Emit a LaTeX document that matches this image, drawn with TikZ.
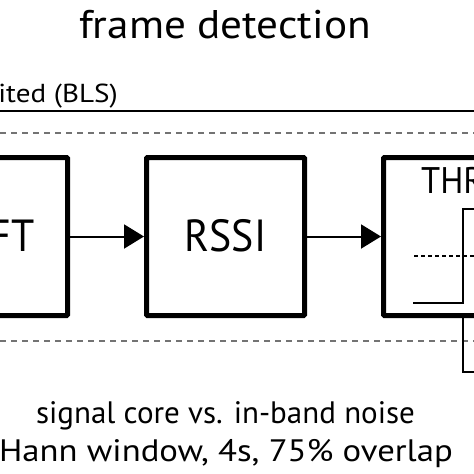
\documentclass[tikz,border=0pt]{standalone}
\usepackage{fontspec}
\setmainfont{PT Sans}
\newfontfamily\fontwide[FakeStretch=1.12]{PT Sans}
\newfontfamily\fonttitle[FakeStretch=1.08]{PT Sans}
\newfontfamily\fontcaps[FakeStretch=0.93]{PT Sans}
\usetikzlibrary{arrows.meta}
\tikzset{
  blockbox/.style={draw, line width=5pt, minimum width=158pt, minimum height=158pt, inner sep=0pt, rounded corners=1pt},
  boxlabel/.style={inner sep=0pt, font=\fontcaps\fontsize{45}{54}\selectfont},
  flowarrow/.style={line width=2pt, -{Triangle[length=20pt,width=24pt]}},
  sepdash/.style={draw=black!55, line width=1.3pt, dash pattern=on 6pt off 5pt},
  sigline/.style={line width=2pt},
  thrdash/.style={line width=2pt, dash pattern=on 4pt off 3pt},
  notetext/.style={anchor=base, inner sep=0pt},
}
\begin{document}
\begin{tikzpicture}[x=1pt,y=-1pt]
\useasboundingbox (0,0) rectangle (474,474);
\clip (0,0) rectangle (474,474);
% title
\node[notetext, font=\fonttitle\fontsize{40}{48}\selectfont] (title) at (225,38) {frame detection};
% BLS label and rules
\node[anchor=base east, inner sep=0pt, font=\fontwide\fontsize{26}{31}\selectfont] (bls) at (118,102) {band-limited (BLS)};
\coordinate (ruleL) at (-5,111);
\coordinate (ruleR) at (480,111);
\draw[line width=2.5pt] (ruleL) -- (ruleR);
\coordinate (dtopL) at (0,133);
\coordinate (dtopR) at (480,133);
\draw[sepdash] (dtopL) -- (dtopR);
\coordinate (dbotL) at (0,341);
\coordinate (dbotR) at (480,341);
\draw[sepdash] (dbotL) -- (dbotR);
% blocks
\node[blockbox] (fft) at (-11.5,236.5) {};
\node[blockbox] (rssi) at (225.5,236.5) {};
\node[blockbox] (thr) at (462.5,236.5) {};
\node[boxlabel, anchor=base east] (fftlabel) at (35,251) {FFT};
\node[boxlabel, anchor=base] (rssilabel) at (225.5,251) {RSSI};
\node[anchor=base west, inner sep=0pt, font=\fontcaps\fontsize{37}{44}\selectfont] (thrlabel) at (421,193) {THRESHOLD};
% arrows
\draw[flowarrow] (fft.east) -- (rssi.west);
\draw[flowarrow] (rssi.east) -- (thr.west);
% threshold plot
\draw[sigline] (413,303.3) -- (462.5,303.3) -- (462.5,209) -- (480,209);
\draw[thrdash] (414,256) -- (480,256);
% output connector
\coordinate (outend) at (480,372);
\draw[sigline] (thr.south) |- (outend);
% bottom text
\node[notetext, font=\fontsize{31}{37}\selectfont] (note1) at (225.5,423) {signal core vs. in-band noise};
\node[notetext, font=\fontwide\fontsize{31}{37}\selectfont] (note2) at (226,461.5) {Hann window, 4s, 75\% overlap};
\end{tikzpicture}
\end{document}
